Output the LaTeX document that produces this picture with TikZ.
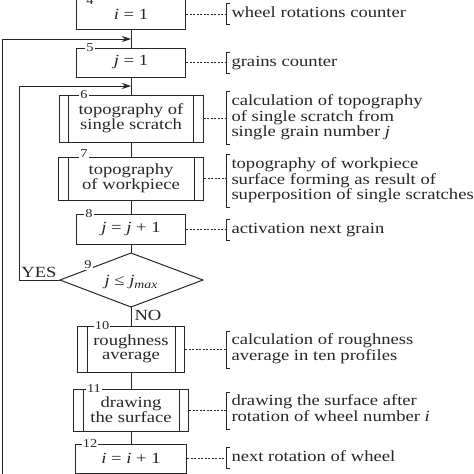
\documentclass[tikz,border=0pt]{standalone}
\usepackage{fontspec}
\setmainfont[FakeStretch=1.2]{Liberation Serif}
\usetikzlibrary{arrows.meta}
\begin{document}
\begin{tikzpicture}[x=1pt,y=-1pt,line width=1pt,
  every node/.style={text=black!85},
  box/.style={draw=black!85, inner sep=0pt, align=center, font=\fontsize{15.5}{14}\selectfont},
  num/.style={fill=white, inner sep=1pt, font=\fontsize{12}{12}\selectfont},
  note/.style={anchor=west, align=left, inner xsep=5pt, inner ysep=2.5pt,
    font=\fontsize{15.5}{15.5}\selectfont, execute at begin node=\strut, execute at end node=\strut},
  lbl/.style={font=\fontsize{15.5}{15.5}\selectfont, inner sep=0pt},
  dots/.style={draw=black!85, dashed, dash pattern=on 2pt off 1.5pt, line width=0.8pt},
  brk/.style={draw=black!85, line width=0.9pt},
  flow/.style={draw=black!85, line width=1pt},
  arr/.style={flow, -{Stealth[length=9pt,width=6pt]}}]
\useasboundingbox (0,0) rectangle (474,474);
\clip (0,0) rectangle (474,474);

% boxes
\node[box, minimum width=109pt, minimum height=30pt] (b4) at (131,14) {\textit{i} = 1};
\node[box, minimum width=109pt, minimum height=29pt] (b5) at (131,62.5) {\textit{j} = 1};
\node[box, minimum width=144pt, minimum height=47pt] (b6) at (131,118.5) {topography of\\single scratch};
\node[box, minimum width=145pt, minimum height=43pt] (b7) at (131,178.5) {topography\\of workpiece};
\node[box, minimum width=109pt, minimum height=30pt] (b8) at (131,229) {\textit{j} = \textit{j} + 1};
\node[box, minimum width=107pt, minimum height=46pt] (b10) at (131,349) {roughness\\average};
\node[box, minimum width=115pt, minimum height=42pt] (b11) at (131,410) {drawing\\the surface};
\node[box, minimum width=111pt, minimum height=29pt] (b12) at (131,458.5) {\textit{i} = \textit{i} + 1};

% inner lines of predefined processes
\foreach \b in {b6,b7,b10,b11}{
  \draw[flow] ([xshift=10pt]\b.north west) -- ([xshift=10pt]\b.south west);
  \draw[flow] ([xshift=-10pt]\b.north east) -- ([xshift=-10pt]\b.south east);
}

% decision
\coordinate (d9n) at (131,253);
\coordinate (d9e) at (203,280);
\coordinate (d9s) at (131,307);
\coordinate (d9w) at (60,280);
\draw[flow] (d9n) -- (d9e) -- (d9s) -- (d9w) -- cycle;
\node[lbl] (d9) at (131,282) {\textit{j} ≤ \textit{j}\raisebox{-3pt}{\fontsize{11.5}{11.5}\selectfont\itshape max}};

% connectors
\coordinate (j1) at (131,39);
\coordinate (j2) at (131,86);
\coordinate (yb) at (19,280);
\coordinate (lb) at (2,490);
\draw[flow] (b4) -- (b5);
\draw[flow] (b5) -- (b6);
\draw[flow] (b6) -- (b7);
\draw[flow] (b7) -- (b8);
\draw[flow] (b8) -- (d9n);
\draw[flow] (d9s) -- (b10);
\draw[flow] (b10) -- (b11);
\draw[flow] (b11) -- (b12);
\draw[arr] (lb) |- (j1);
\draw[arr] (d9w) -- (yb) |- (j2);

\node[lbl, anchor=south] (yes) at (39,278) {YES};
\node[lbl, anchor=west] (no) at (134,315) {NO};

% numbers
\node[num] (n4) at (90,1) {4};
\node[num] (n5) at (90,48) {5};
\node[num] (n6) at (84,95) {6};
\node[num] (n7) at (84,154) {7};
\node[num] (n8) at (89,214) {8};
\node[num] (n9) at (88,265) {9};
\node[num] (n10) at (102,326) {10};
\node[num] (n11) at (94,389) {11};
\node[num] (n12) at (90,444) {12};

% annotations
\node[note] (a4) at (226,14) {wheel rotations counter};
\node[note] (a5) at (226,63) {grains counter};
\node[note] (a6) at (226,118) {calculation of topography\\of single scratch from\\single grain number \textit{j}};
\node[note] (a7) at (226,181) {topography of workpiece\\surface forming as result of\\superposition of single scratches};
\node[note] (a8) at (226,230) {activation next grain};
\node[note] (a10) at (226,349.5) {calculation of roughness\\average in ten profiles};
\node[note] (a11) at (226,410.5) {drawing the surface after\\rotation of wheel number \textit{i}};
\node[note] (a12) at (226,458) {next rotation of wheel};

\foreach \b/\a in {b4/a4,b5/a5,b6/a6,b7/a7,b8/a8,b10/a10,b11/a11,b12/a12}{
  \draw[dots] (\b.east) -- (\b.east -| \a.west);
  \draw[brk] ([xshift=4pt]\a.north west) -- (\a.north west) -- (\a.south west) -- ([xshift=4pt]\a.south west);
}
\end{tikzpicture}
\end{document}
